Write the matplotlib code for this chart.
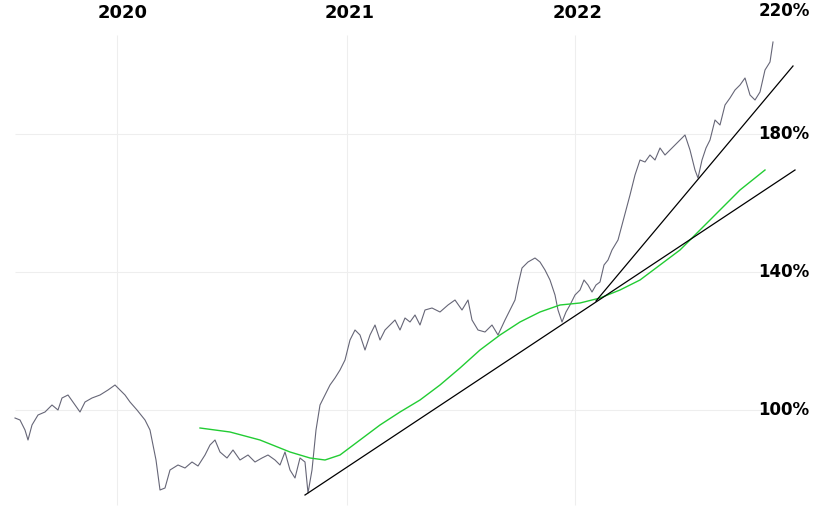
import numpy as np
import matplotlib.pyplot as plt

# readings from the reference: x in fractional years, y in percent
px_x = [15,20,25,28,32,38,45,52,58,62,68,75,80,85,92,100,108,115,120,125,130,137,145,150,153,156,160,165,170,178,
        185,192,198,205,210,215,220,227,233,240,248,255,262,268,275,280,285,290,295,300,305,308,312,316,320,325,330,335,340,345,
        350,355,360,365,370,375,380,385,390,395,400,405,410,415,420,425,432,440,448,455,462,468,472,478,485,492,498,505,510,515,
        518,522,528,535,540,545,550,555,558,562,566,570,575,580,584,588,592,596,600,604,608,612,618,622,626,630,635,640,645,650,
        655,660,665,670,675,680,685,690,695,698,702,706,710,715,720,725,730,735,740,745,750,755,760,765,770,773]
px_y = [418,420,430,440,425,415,412,405,410,398,395,405,412,402,398,395,390,385,390,395,402,410,420,430,445,460,490,488,470,465,
        468,462,466,455,445,440,452,458,450,460,455,462,458,455,460,465,452,470,478,458,462,493,470,430,405,395,385,378,370,360,
        340,330,335,350,335,325,340,330,325,320,330,318,322,315,325,310,308,312,305,300,310,300,320,330,332,325,335,320,310,300,
        285,268,262,258,262,270,280,295,310,322,312,305,295,290,280,285,292,285,282,265,260,250,240,225,210,195,175,160,162,155,
        160,148,155,150,145,140,135,150,170,178,160,148,140,120,125,105,98,90,85,78,95,100,92,70,62,42]
ma_px_x = [200,230,260,290,310,325,340,360,380,400,420,440,460,480,500,520,540,560,580,600,620,640,660,680,700,720,740,755,765]
ma_px_y = [428,432,440,452,458,460,455,440,425,412,400,385,368,350,335,322,312,305,303,298,290,280,265,250,230,210,190,178,170]
trend1_px = ([305, 795], [495, 170])
trend2_px = ([596, 793], [301, 66])
years = ["2020", "2021", "2022"]
year_px = [123, 350, 578]
pct_levels = [100, 140, 180, 220]
pct_label_px = [410, 272, 134, 11]


def to_year(x):
    return 2020 + (np.asarray(x, float) - 123) / 228


def to_pct(y):
    return 100 + (410 - np.asarray(y, float)) / 3.45


fig = plt.figure(figsize=(8.16, 5.14), dpi=100)
ax = fig.add_axes([0, 0, 1, 1])
ax.set_xlim(to_year(0), to_year(816))
ax.set_ylim(to_pct(514), to_pct(0))
ax.axis("off")

grid = "#eeeeee"
for p in pct_levels[:3]:
    ax.hlines(p, to_year(15), to_year(775), color=grid, lw=0.8)
for x in [117, 347, 575]:
    ax.vlines(to_year(x), to_pct(505), to_pct(35), color=grid, lw=0.8)

ax.plot(to_year(px_x), to_pct(px_y), color="#666677", lw=0.8)
ax.plot(to_year(ma_px_x), to_pct(ma_px_y), color="#22cc33", lw=1.0)
ax.plot(to_year(trend1_px[0]), to_pct(trend1_px[1]), color="black", lw=0.9)
ax.plot(to_year(trend2_px[0]), to_pct(trend2_px[1]), color="black", lw=0.9)

for label, x in zip(years, year_px):
    ax.text(to_year(x), to_pct(13), label, ha="center", va="center", fontsize=13, fontweight="bold")
for p, y in zip(pct_levels, pct_label_px):
    ax.text(to_year(784), to_pct(y), f"{p}%", ha="center", va="center", fontsize=12, fontweight="bold")

fig.savefig("out.png", dpi=100)
